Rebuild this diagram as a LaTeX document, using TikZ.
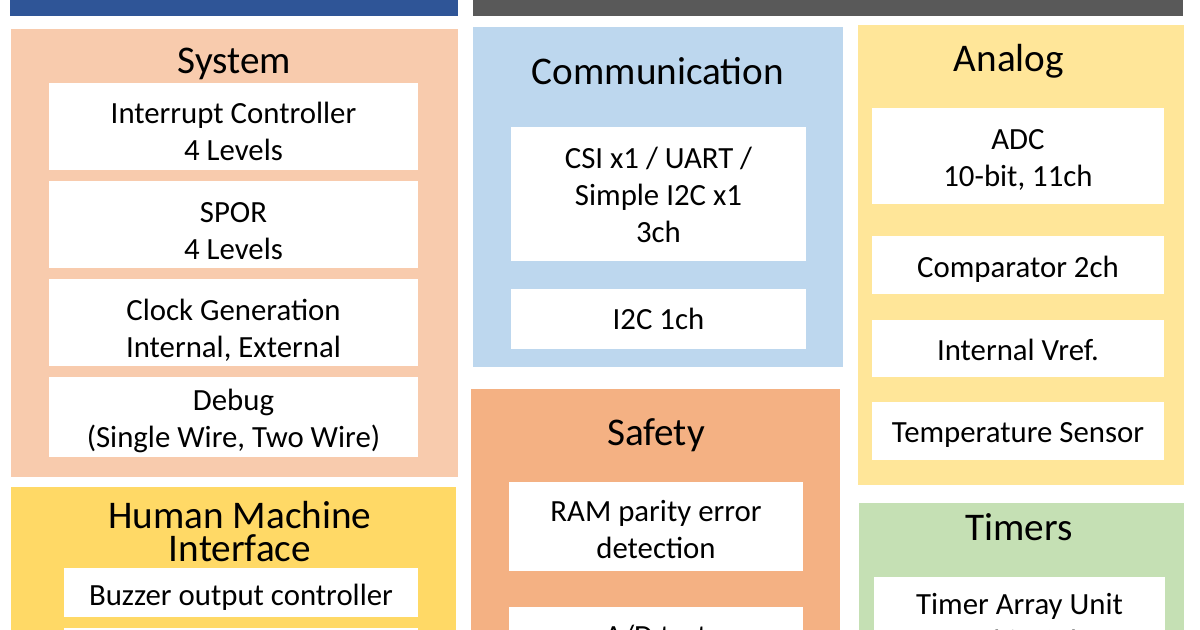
\documentclass[tikz,border=0pt]{standalone}
\usepackage{fontspec}
\setmainfont{Carlito}

\definecolor{barraazul}{HTML}{2F5597}
\definecolor{barragris}{HTML}{595959}
\definecolor{sistema}{HTML}{F8CBAD}
\definecolor{hmi}{HTML}{FFD966}
\definecolor{comunic}{HTML}{BDD7EE}
\definecolor{seguridad}{HTML}{F4B183}
\definecolor{analogico}{HTML}{FFE699}
\definecolor{temporiz}{HTML}{C5E0B4}

\tikzset{
    caja/.style={fill=white},
    texto/.style={inner sep=0pt, align=center,
        font=\fontsize{15.4}{18.5}\selectfont},
    titulo/.style={inner sep=0pt, align=center,
        font=\fontsize{19.6}{16.5}\selectfont},
}

\begin{document}
\begin{tikzpicture}[x=0.5pt, y=-0.5pt]
        \useasboundingbox (0,0) rectangle (1200,630);
        \clip (0,0) rectangle (1200,630);

        % Barras superiores
        \fill[barraazul] (10,-10) rectangle (458,16);
        \fill[barragris] (473,-10) rectangle (1183,16);

        % Paneles de fondo
        \fill[sistema]   (11,29)  rectangle (458,477);
        \fill[hmi]       (11,487) rectangle (456,650);
        \fill[comunic]   (473,27) rectangle (843,367);
        \fill[seguridad] (471,389) rectangle (840,650);
        \fill[analogico] (858,25) rectangle (1184,485);
        \fill[temporiz]  (859,503) rectangle (1184,650);

        % Cajas blancas
        \foreach \y/\h in {83/87, 181/87, 279/87, 377/80} {
            \fill[caja] (49,\y) rectangle (418,\y+\h);
        }
        \fill[caja] (64,568) rectangle (418,617);
        \fill[caja] (64,628) rectangle (418,677);
        \fill[caja] (511,127) rectangle (806,261);
        \fill[caja] (511,289) rectangle (806,349);
        \fill[caja] (509,482) rectangle (803,571);
        \fill[caja] (509,607) rectangle (803,667);
        \foreach \y/\h in {108/96, 236/58, 320/57, 402/58} {
            \fill[caja] (872,\y) rectangle (1164,\y+\h);
        }
        \fill[caja] (874,577) rectangle (1165,665);

        % Sistema
        \node[titulo] (tsis) at (234.5, 64) {System};
        \node[texto] (irq) at (233.5, 131.5) {Interrupt Controller\\4 Levels};
        \node[texto] (spor) at (233.5, 231) {SPOR\\4 Levels};
        \node[texto] (reloj) at (233.5, 330) {Clock Generation\\Internal, External};
        \node[texto] (depur) at (233.5, 420.5) {Debug\\(Single Wire, Two Wire)};

        % Interfaz hombre-maquina
        \node[titulo] (thmi) at (240, 532) {Human Machine\\Interface};
        \node[texto] (zumb) at (241, 597.5) {Buzzer output controller};

        % Comunicacion
        \node[titulo] (tcom) at (658, 71) {Communication};
        \node[texto] (csi) at (658.5, 194.5) {CSI x1 / UART /\\Simple I2C x1\\3ch};
        \node[texto] (iic) at (658.5, 319) {I2C 1ch};

        % Seguridad
        \node[titulo] (tseg) at (656, 435) {Safety};
        \node[texto] (ram) at (656, 530) {RAM parity error\\detection};
        \node[texto] (adt) at (656, 636) {A/D test};

        % Analogico
        \node[titulo] (tana) at (1009, 61) {Analog};
        \node[texto] (adc) at (1018, 159.5) {ADC\\10-bit, 11ch};
        \node[texto] (comp) at (1018, 269) {Comparator 2ch};
        \node[texto] (vref) at (1018, 349.5) {Internal Vref.};
        \node[texto] (temp) at (1018, 435) {Temperature Sensor};

        % Temporizadores
        \node[titulo] (ttim) at (1019, 527) {Timers};
        \node[texto] (tau) at (1019.5, 624) {Timer Array Unit\\16-bit, 8ch};

    \end{tikzpicture}
\end{document}
